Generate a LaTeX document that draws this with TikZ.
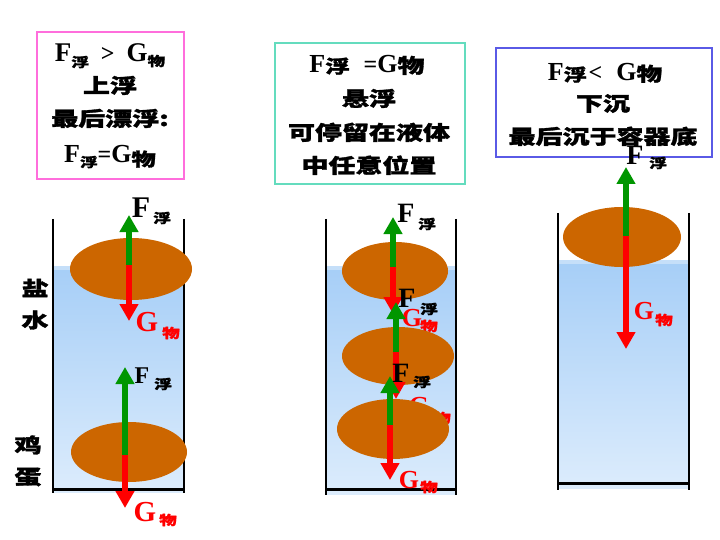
\documentclass[tikz,border=0pt]{standalone}
\usepackage{fontspec}
\setmainfont{Liberation Serif}
\newfontfamily\cjk[FakeStretch=1.35,BoldFeatures={FakeBold=1.5}]{Noto Sans CJK SC}
\usetikzlibrary{arrows.meta,shapes.geometric}
\definecolor{eggc}{RGB}{204,102,0}
\definecolor{grn}{RGB}{0,150,0}
\definecolor{pinkb}{RGB}{255,110,220}
\definecolor{tealb}{RGB}{100,220,190}
\definecolor{blueb}{RGB}{90,90,230}
\definecolor{wtop}{RGB}{166,206,247}
\definecolor{wbot}{RGB}{220,236,252}
\tikzset{
  egg/.style={ellipse, fill=eggc, inner sep=0pt},
  wall/.style={line width=2.5pt, draw=black},
  floor/.style={line width=3pt, draw=black},
  water/.style={top color=wtop, bottom color=wbot},
  upar/.style={draw=grn, line width=6pt, -{Triangle[width=18pt,length=17pt]}},
  dnar/.style={draw=red, line width=6pt, -{Triangle[width=18pt,length=17pt]}},
  fbig/.style={font=\bfseries\fontsize{30}{30}\selectfont, inner sep=0pt},
  fmid/.style={font=\bfseries\fontsize{28}{28}\selectfont, inner sep=0pt},
  fsml/.style={font=\bfseries\fontsize{24}{24}\selectfont, inner sep=0pt},
  gred/.style={font=\bfseries\fontsize{29}{29}\selectfont, inner sep=0pt, text=red},
  gsml/.style={font=\bfseries\fontsize{26}{26}\selectfont, inner sep=0pt, text=red},
  subf/.style={font=\cjk\bfseries\fontsize{13}{13}\selectfont, inner sep=0pt},
  subg/.style={font=\cjk\bfseries\fontsize{13}{13}\selectfont, inner sep=0pt, text=red},
  side/.style={font=\cjk\bfseries\fontsize{20}{20}\selectfont, inner sep=0pt},
  btext/.style={anchor=base, inner sep=0pt, font=\bfseries},
  cline/.style={anchor=base, inner sep=0pt, font=\cjk\bfseries\fontsize{20}{20}\selectfont},
  frame/.style={line width=1.4pt}
}
\newcommand\bigF[1]{{\fontsize{#1}{#1}\selectfont F}}
\newcommand\bigG[1]{{\fontsize{#1}{#1}\selectfont G}}
\newcommand\cj[2]{{\cjk\fontsize{#1}{#1}\selectfont #2}}
\begin{document}
\begin{tikzpicture}[x=1pt,y=-1pt]
\useasboundingbox[fill=white] (0,0) rectangle (720,540);

% ---------- text boxes ----------
\draw[frame, draw=pinkb] (37,32) rectangle (184,179);
\node[btext] (b1l1) at (110,62) {\bigF{27}\raisebox{-5pt}{\cj{13}{浮}}\hspace{12pt}{\fontsize{24}{24}\selectfont >}\hspace{12pt}\bigG{27}\raisebox{-4pt}{\cj{13}{物}}};
\node[cline] (b1l2) at (110,93) {上浮};
\node[cline] (b1l3) at (110,126) {最后漂浮:};
\node[btext] (b1l4) at (110,163) {\bigF{26}\raisebox{-4pt}{\cj{13}{浮}}{\fontsize{24}{24}\selectfont =}\bigG{26}\raisebox{-3pt}{\cj{18}{物}}};

\draw[frame, draw=tealb] (275,43) rectangle (465,184);
\node[btext] (b2l1) at (367,73) {\bigF{26}\cj{18}{浮}\hspace{14pt}{\fontsize{24}{24}\selectfont =}\bigG{26}\cj{20}{物}};
\node[cline] (b2l2) at (369,106) {悬浮};
\node[cline] (b2l3) at (369,140) {可停留在液体};
\node[cline] (b2l4) at (369,173) {中任意位置};

\draw[frame, draw=blueb] (496,48) rectangle (712,157);
\node[btext] (b3l1) at (605,81) {\bigF{26}\cj{17}{浮}\hspace{2pt}{\fontsize{24}{24}\selectfont <}\hspace{14pt}\bigG{26}\cj{19}{物}};
\node[cline] (b3l2) at (603,111) {下沉};
\node[cline] (b3l3) at (603,144) {最后沉于容器底};

% ---------- container 1 ----------
\shade[water] (53,266) rectangle (184,492);
\fill[white, opacity=0.35] (53,266) rectangle (184,270);
\draw[wall] (53,219) -- (53,493);
\draw[wall] (184,219) -- (184,493);
\draw[floor] (53,489) -- (184,489);
\node[side] (yan) at (35,288) {盐};
\node[side] (shui) at (35,320) {水};
\node[side] (ji) at (28,445) {鸡};
\node[side] (dan) at (28,477) {蛋};

\node[egg, minimum width=122pt, minimum height=62pt] (e1) at (131,269) {};
\coordinate (a1t) at (129,215);
\coordinate (a1m) at (129,265);
\coordinate (a1b) at (129,321);
\draw[upar] (a1m) -- (a1t);
\draw[dnar] (a1m) -- (a1b);
\node[fbig] (f1) at (141,208) {F};
\node[subf] (f1s) at (162,218) {浮};
\node[gred] (g1) at (147,322) {G};
\node[subg] (g1s) at (171,333) {物};

\node[egg, minimum width=116pt, minimum height=60pt] (e2) at (129,452) {};
\coordinate (a2t) at (125,367);
\coordinate (a2m) at (125,455);
\coordinate (a2b) at (125,508);
\draw[upar] (a2m) -- (a2t);
\draw[dnar] (a2m) -- (a2b);
\node[fsml] (f2) at (142,376) {F};
\node[subf] (f2s) at (163,384) {浮};
\node[gred] (g2) at (145,512) {G};
\node[subg] (g2s) at (168,520) {物};

% ---------- container 2 ----------
\shade[water] (326,266) rectangle (456,494);
\fill[white, opacity=0.35] (326,266) rectangle (456,270);
\draw[wall] (326,219) -- (326,495);
\draw[wall] (456,219) -- (456,495);
\draw[floor] (326,489) -- (456,489);

\node[egg, minimum width=106pt, minimum height=58pt] (e3) at (395,271) {};
\coordinate (a3t) at (393,217);
\coordinate (a3m) at (393,267);
\coordinate (a3b) at (393,314);
\draw[upar] (a3m) -- (a3t);
\draw[dnar] (a3m) -- (a3b);
\node[fmid] (f3) at (406,213) {F};
\node[subf] (f3s) at (427,224) {浮};
\node[gsml] (g3) at (412,318) {G};
\node[subg] (g3s) at (429,326) {物};

\node[egg, minimum width=112pt, minimum height=58pt] (e4) at (398,356) {};
\coordinate (a4t) at (396,302);
\coordinate (a4m) at (396,352);
\coordinate (a4b) at (396,399);
\draw[upar] (a4m) -- (a4t);
\draw[dnar] (a4m) -- (a4b);
\node[fmid] (f4) at (407,298) {F};
\node[subf] (f4s) at (429,309) {浮};
\node[gsml] (g4) at (419,406) {G};
\node[subg] (g4s) at (442,418) {物};

\node[egg, minimum width=112pt, minimum height=60pt] (e5) at (393,429) {};
\coordinate (a5t) at (390,376);
\coordinate (a5m) at (390,425);
\coordinate (a5b) at (390,480);
\draw[upar] (a5m) -- (a5t);
\draw[dnar] (a5m) -- (a5b);
\node[fmid] (f5) at (401,373) {F};
\node[subf] (f5s) at (422,382) {浮};
\node[gsml] (g5) at (409,480) {G};
\node[subg] (g5s) at (429,487) {物};

% ---------- container 3 ----------
\shade[water] (558,260) rectangle (689,488);
\fill[white, opacity=0.35] (558,260) rectangle (689,264);
\draw[wall] (558,213) -- (558,490);
\draw[wall] (689,213) -- (689,490);
\draw[floor] (558,483) -- (689,483);

\node[egg, minimum width=118pt, minimum height=60pt] (e6) at (622,237) {};
\coordinate (a6t) at (626,167);
\coordinate (a6m) at (626,236);
\coordinate (a6b) at (626,349);
\draw[upar] (a6m) -- (a6t);
\draw[dnar] (a6m) -- (a6b);
\node[fmid] (f6) at (635,155) {F};
\node[subf] (f6s) at (658,163) {浮};
\node[gsml] (g6) at (644,311) {G};
\node[subg] (g6s) at (664,320) {物};
\end{tikzpicture}
\end{document}
